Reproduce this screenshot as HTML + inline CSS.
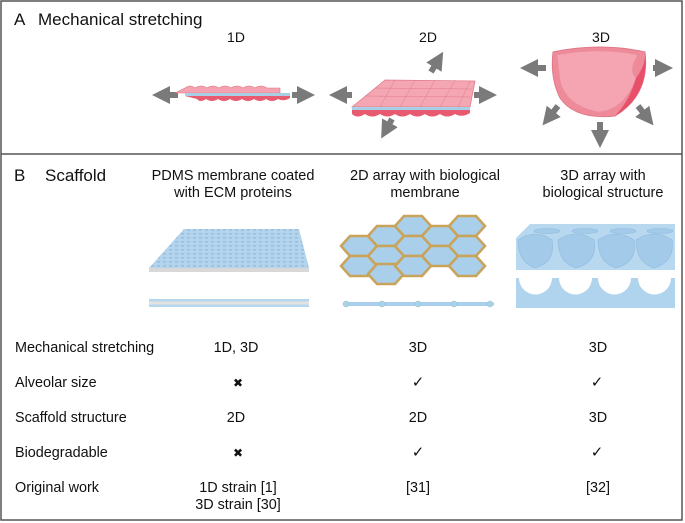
<!DOCTYPE html>
<html><head><meta charset="utf-8"><style>
html,body{margin:0;padding:0;background:#fff}
svg{display:block}
text{font-family:"Liberation Sans",Arial,sans-serif;fill:#111}
</style></head><body>
<svg width="685" height="523" viewBox="0 0 685 523" xmlns="http://www.w3.org/2000/svg">
<defs>
<marker id="ah" markerWidth="3" markerHeight="3" refX="1" refY="1.5" orient="auto" markerUnits="strokeWidth"><path d="M0,0 L3,1.5 L0,3z" fill="#7a7a7a"/></marker>
<pattern id="dots" width="6" height="4" patternUnits="userSpaceOnUse"><rect width="6" height="4" fill="#b3d4ec"/><rect x="1" y="1" width="3" height="1.5" fill="#95bfe0"/></pattern>
<g id="hx"><polygon points="-18,0 -9,-10 9,-10 18,0 9,10 -9,10"/></g>
</defs>
<rect x="1" y="1" width="681" height="519" fill="none" stroke="#555" stroke-width="1.5"/>
<line x1="1" y1="154" x2="682" y2="154" stroke="#555" stroke-width="1.5"/>
<text x="14" y="25" font-size="17">A</text><text x="38" y="25" font-size="17">Mechanical stretching</text>
<text x="236" y="42" font-size="14" text-anchor="middle">1D</text>
<text x="428" y="42" font-size="14" text-anchor="middle">2D</text>
<text x="601" y="42" font-size="14" text-anchor="middle">3D</text>
<g stroke="#7a7a7a" stroke-width="6" fill="none" marker-end="url(#ah)">
<line x1="178" y1="95" x2="164" y2="95"/><line x1="292" y1="95" x2="303" y2="95"/>
<line x1="352" y1="95" x2="341" y2="95"/><line x1="474" y1="95" x2="485" y2="95"/>
<line x1="431" y1="72" x2="437" y2="62"/><line x1="392" y1="119" x2="387" y2="128"/>
<line x1="546" y1="68" x2="532" y2="68"/><line x1="653" y1="68" x2="661" y2="68"/>
<line x1="558" y1="106" x2="550" y2="116"/><line x1="600" y1="122" x2="600" y2="136"/>
<line x1="638" y1="106" x2="646" y2="116"/>
</g>
<path d="M185,88 q5,-4 10,0 q6,-4 12,0 q6,-4 12,0 q6,-4 12,0 q6,-4 12,0 q6,-4 12,0 q6,-4 12,0 l13,0 v5 h-105z" fill="#f5a3b0" stroke="#e0707f" stroke-width="0.6"/>
<rect x="185" y="93" width="105" height="3" fill="#a8cfe6"/>
<path d="M185,96 h105 v2 q-6,4 -12,1 q-6,4 -12,0 q-6,4 -12,0 q-6,4 -12,0 q-6,4 -12,0 q-6,4 -12,0 q-6,4 -12,0 q-6,4 -9,0z" fill="#e85a6f"/>
<path d="M352,107 L385,80 L475,81 L470,107z" fill="#f4a7b3" stroke="#e07a89" stroke-width="0.8"/>
<g stroke="#e07a89" stroke-width="0.5" fill="none">
<path d="M365,96 L470,97 M375,88 L472,89 M395,80 L380,107 M415,80 L400,107 M435,80 L420,107 M455,80 L440,107 M470,81 L458,107"/>
</g>
<rect x="352" y="107" width="118" height="3" fill="#a8cfe6"/>
<path d="M352,110 h118 v3 q-8,5 -15,1 q-8,5 -15,0 q-8,5 -15,0 q-8,5 -15,0 q-8,5 -15,0 q-8,5 -15,0 q-8,5 -15,0 q-8,5 -13,0z" fill="#e85a6f"/>
<path d="M553,52 Q600,42 645,52 Q650,95 615,116 Q575,120 560,98 Q550,78 553,52z" fill="#ee8a99" stroke="#e07a89"/>
<path d="M557,55 Q600,47 638,55 Q628,70 636,78 Q625,110 598,112 Q565,105 560,80z" fill="#f5a5b2" stroke="#e8909d" stroke-width="0.6"/>
<path d="M636,78 Q646,65 645,52 Q650,95 615,116 Q630,100 636,78z" fill="#e8506a"/>
<text x="14" y="181" font-size="17">B</text><text x="45" y="181" font-size="17">Scaffold</text>
<g font-size="14.5" text-anchor="middle">
<text x="233" y="180">PDMS membrane coated</text><text x="233" y="197">with ECM proteins</text>
<text x="425" y="180">2D array with biological</text><text x="425" y="197">membrane</text>
<text x="603" y="180">3D array with</text><text x="603" y="197">biological structure</text>
</g>
<path d="M149,268 L184,229 L299,229 L309,268z" fill="url(#dots)"/>
<rect x="149" y="268" width="160" height="4" fill="#d8d8d8"/>
<rect x="149" y="299" width="160" height="8" fill="#b6d6ee"/>
<rect x="149" y="301.5" width="160" height="3" fill="#e3e3e3"/>
<g fill="#a9cfea" stroke="#c9a35a" stroke-width="2.5">
<use href="#hx" x="359" y="246"/><use href="#hx" x="359" y="266"/>
<use href="#hx" x="386" y="236"/><use href="#hx" x="386" y="256"/><use href="#hx" x="386" y="276" transform="translate(0,-2)"/>
<use href="#hx" x="413" y="226"/><use href="#hx" x="413" y="246"/><use href="#hx" x="413" y="266"/>
<use href="#hx" x="440" y="236"/><use href="#hx" x="440" y="256"/>
<use href="#hx" x="467" y="226"/><use href="#hx" x="467" y="246"/><use href="#hx" x="467" y="266"/>
</g>
<rect x="343" y="302" width="151" height="4" rx="2" fill="#a9cfea"/>
<g fill="#a9cfea" stroke="#8bb" stroke-width="0.4"><circle cx="346" cy="304" r="3"/><circle cx="382" cy="304" r="3"/><circle cx="418" cy="304" r="3"/><circle cx="454" cy="304" r="3"/><circle cx="490" cy="304" r="3"/></g>
<path d="M516,238 L530,224 L675,224 L675,270 L516,270z" fill="#b7d8ef"/>
<g fill="#a3cae8" stroke="#8fbbe0" stroke-width="0.6">
<path d="M518,240 Q536,228 552,240 Q556,262 535,268 Q518,262 518,240z"/>
<path d="M558,240 Q576,228 594,240 Q598,262 576,268 Q558,262 558,240z"/>
<path d="M598,240 Q616,228 634,240 Q638,262 616,268 Q598,262 598,240z"/>
<path d="M636,240 Q654,228 672,240 Q675,262 654,268 Q636,262 636,240z"/>
<ellipse cx="547" cy="231" rx="13" ry="2.5"/><ellipse cx="585" cy="231" rx="13" ry="2.5"/><ellipse cx="623" cy="231" rx="13" ry="2.5"/><ellipse cx="660" cy="231" rx="13" ry="2.5"/>
</g>
<rect x="516" y="278" width="159" height="30" fill="#b0d3ee"/>
<g fill="#fff">
<path d="M519,278 h33 a16.5,16.5 0 0 1 -33,0z"/>
<path d="M559,278 h33 a16.5,16.5 0 0 1 -33,0z"/>
<path d="M598,278 h33 a16.5,16.5 0 0 1 -33,0z"/>
<path d="M638,278 h33 a16.5,16.5 0 0 1 -33,0z"/>
</g>
<g font-size="14.4">
<text x="15" y="352">Mechanical stretching</text>
<text x="15" y="387">Alveolar size</text>
<text x="15" y="422">Scaffold structure</text>
<text x="15" y="457">Biodegradable</text>
<text x="15" y="492">Original work</text>
</g>
<g font-size="14.4" text-anchor="middle">
<text x="236" y="352">1D, 3D</text><text x="418" y="352">3D</text><text x="598" y="352">3D</text>
<text x="238" y="387" font-size="12">✖</text><text x="418" y="387" font-size="15">✓</text><text x="597" y="387" font-size="15">✓</text>
<text x="236" y="422">2D</text><text x="418" y="422">2D</text><text x="598" y="422">3D</text>
<text x="238" y="457" font-size="12">✖</text><text x="418" y="457" font-size="15">✓</text><text x="597" y="457" font-size="15">✓</text>
<text x="238" y="492">1D strain [1]</text><text x="238" y="509">3D strain [30]</text>
<text x="418" y="492">[31]</text><text x="598" y="492">[32]</text>
</g>
</svg>
</body></html>
